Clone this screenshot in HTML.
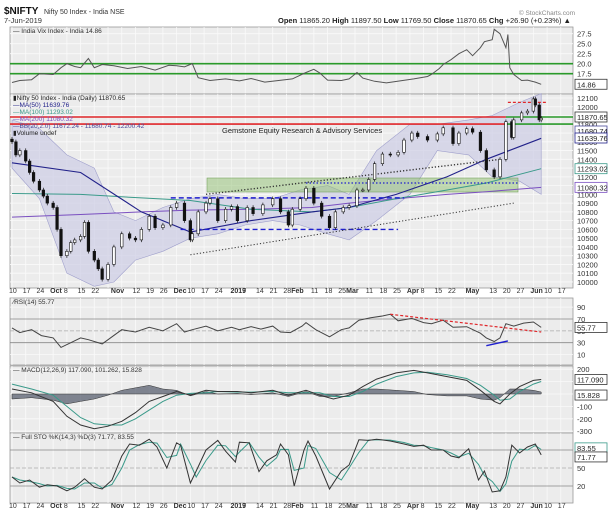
<!DOCTYPE html>
<html><head><meta charset="utf-8">
<style>
body{margin:0;background:#fff;font-family:"Liberation Sans",sans-serif;}
svg{display:block}
text{font-family:"Liberation Sans",sans-serif;}
</style></head><body>
<svg id="c" width="614" height="516" viewBox="0 0 614 516" xmlns="http://www.w3.org/2000/svg"></svg>
<script>
// ---------- DATA ----------
const priceDates=["2018-09-10","2018-09-12","2018-09-14","2018-09-17","2018-09-19","2018-09-21","2018-09-24","2018-09-26","2018-09-28","2018-10-01","2018-10-03","2018-10-05","2018-10-08","2018-10-10","2018-10-12","2018-10-15","2018-10-17","2018-10-19","2018-10-22","2018-10-24","2018-10-26","2018-10-29","2018-11-01","2018-11-05","2018-11-09","2018-11-12","2018-11-15","2018-11-19","2018-11-22","2018-11-26","2018-11-30","2018-12-03","2018-12-07","2018-12-10","2018-12-11","2018-12-14","2018-12-18","2018-12-20","2018-12-24","2018-12-28","2018-12-31","2019-01-03","2019-01-08","2019-01-11","2019-01-16","2019-01-21","2019-01-25","2019-01-29","2019-01-31","2019-02-04","2019-02-07","2019-02-11","2019-02-15","2019-02-19","2019-02-22","2019-02-26","2019-03-01","2019-03-05","2019-03-08","2019-03-11","2019-03-14","2019-03-18","2019-03-22","2019-03-26","2019-03-29","2019-04-02","2019-04-05","2019-04-10","2019-04-15","2019-04-18","2019-04-23","2019-04-26","2019-04-30","2019-05-03","2019-05-07","2019-05-10","2019-05-14","2019-05-17","2019-05-20","2019-05-23","2019-05-24","2019-05-28","2019-05-31","2019-06-03","2019-06-04","2019-06-06","2019-06-07"];
const priceClose=[11600,11450,11500,11380,11250,11150,11050,10980,10900,10850,10600,10300,10350,10450,10480,10520,10680,10350,10250,10150,10030,10200,10400,10550,10500,10480,10600,10750,10620,10650,10850,10900,10700,10480,10550,10800,10900,10950,10700,10830,10860,10700,10850,10780,10880,10950,10800,10650,10830,10950,11070,10900,10750,10620,10800,10850,10870,11050,11050,11170,11350,11460,11450,11480,11620,11700,11660,11620,11690,11760,11580,11700,11750,11710,11500,11280,11200,11400,11830,11650,11850,11930,11950,12090,12020,11850,11870];
const bbDates=["2018-09-10","2018-09-24","2018-10-08","2018-10-22","2018-11-01","2018-11-12","2018-11-26","2018-12-10","2018-12-24","2019-01-07","2019-01-21","2019-02-04","2019-02-18","2019-03-01","2019-03-15","2019-04-01","2019-04-15","2019-05-01","2019-05-13","2019-05-27","2019-06-07"];
const bbUpper=[11850,11750,11450,11300,10800,10700,10850,10950,11000,10950,10950,11050,11100,11000,11500,11800,11800,11850,11900,12050,12150];
const bbLower=[11300,10950,10100,9950,10000,10250,10350,10500,10550,10650,10700,10650,10550,10480,10700,11000,11500,11450,11200,11150,11000];
const maDates=["2018-09-10","2018-10-15","2018-11-15","2018-12-10","2019-01-10","2019-02-10","2019-03-01","2019-03-25","2019-04-20","2019-05-10","2019-06-07"];
const ma50=[11360,11250,10800,10570,10700,10800,10850,11000,11200,11400,11640];
const ma100=[11010,11000,10960,10930,10830,10800,10850,10950,11050,11130,11293];
const ma200=[10740,10770,10800,10820,10830,10850,10900,10950,11000,11030,11080];
const vixDates=["2018-09-10","2018-09-14","2018-09-20","2018-09-24","2018-10-01","2018-10-05","2018-10-08","2018-10-12","2018-10-15","2018-10-19","2018-10-22","2018-10-26","2018-11-01","2018-11-08","2018-11-15","2018-11-22","2018-11-29","2018-12-03","2018-12-07","2018-12-11","2018-12-14","2018-12-20","2018-12-28","2019-01-04","2019-01-10","2019-01-17","2019-01-24","2019-01-31","2019-02-07","2019-02-11","2019-02-14","2019-02-18","2019-02-25","2019-03-01","2019-03-05","2019-03-08","2019-03-14","2019-03-20","2019-03-27","2019-04-03","2019-04-10","2019-04-12","2019-04-16","2019-04-18","2019-04-22","2019-04-26","2019-04-30","2019-05-03","2019-05-07","2019-05-09","2019-05-13","2019-05-14","2019-05-17","2019-05-20","2019-05-21","2019-05-22","2019-05-24","2019-05-28","2019-05-31","2019-06-04","2019-06-07"];
const vixVals=[15.3,15.8,16,17.5,17.3,19,20,19.3,19,21.3,19,19.8,19.5,18.8,19.3,18.4,19.6,19.5,19.2,20,16.5,15.8,16.2,15.7,16.3,15.4,15.8,16.2,17.8,18.6,17.7,15.9,15.8,16.2,17.8,16.4,15.6,15.2,15.7,16.2,16.8,17.3,18.8,19.8,21,22.5,23.5,22,24,25.5,26,28.6,27.5,24,27.3,19,17.3,15.8,15.9,15.4,14.86];
const rsiDates=["2018-09-10","2018-09-14","2018-09-20","2018-09-25","2018-10-01","2018-10-05","2018-10-10","2018-10-15","2018-10-19","2018-10-26","2018-10-31","2018-11-05","2018-11-12","2018-11-19","2018-11-26","2018-12-03","2018-12-07","2018-12-11","2018-12-18","2018-12-24","2018-12-31","2019-01-04","2019-01-10","2019-01-15","2019-01-21","2019-01-25","2019-01-30","2019-02-05","2019-02-07","2019-02-12","2019-02-19","2019-02-25","2019-03-01","2019-03-06","2019-03-12","2019-03-18","2019-03-22","2019-03-26","2019-04-02","2019-04-08","2019-04-12","2019-04-18","2019-04-23","2019-04-30","2019-05-07","2019-05-10","2019-05-14","2019-05-17","2019-05-20","2019-05-24","2019-05-29","2019-06-03","2019-06-07"];
const rsiVals=[55,47,52,42,38,22,30,38,35,28,40,52,48,56,50,62,48,52,58,50,56,52,57,53,58,48,47,58,64,52,40,52,55,68,72,75,78,67,71,64,62,68,56,57,46,38,32,38,62,58,63,65,55.77];
const macdDates=["2018-09-10","2018-09-20","2018-10-01","2018-10-08","2018-10-15","2018-10-22","2018-10-29","2018-11-05","2018-11-12","2018-11-19","2018-11-26","2018-12-03","2018-12-10","2018-12-18","2018-12-24","2019-01-03","2019-01-10","2019-01-21","2019-01-29","2019-02-07","2019-02-14","2019-02-21","2019-03-01","2019-03-08","2019-03-15","2019-03-25","2019-04-03","2019-04-10","2019-04-20","2019-04-30","2019-05-07","2019-05-14","2019-05-17","2019-05-22","2019-05-27","2019-06-03","2019-06-07"];
const macdLine=[40,10,-60,-180,-250,-280,-260,-220,-150,-60,-20,20,-10,30,20,20,10,30,-10,30,-10,-40,-10,60,120,170,190,170,140,110,30,-60,-80,0,60,110,117];
const macdSignal=[80,40,-10,-100,-190,-240,-250,-250,-200,-130,-60,-10,5,10,20,15,15,20,10,10,10,-20,-20,20,80,140,170,175,155,125,70,-10,-50,-40,20,80,101];
const stoDates=["2018-09-10","2018-09-14","2018-09-19","2018-09-24","2018-09-28","2018-10-03","2018-10-08","2018-10-12","2018-10-17","2018-10-22","2018-10-26","2018-10-31","2018-11-05","2018-11-09","2018-11-14","2018-11-19","2018-11-23","2018-11-28","2018-12-03","2018-12-05","2018-12-10","2018-12-13","2018-12-18","2018-12-24","2018-12-28","2019-01-02","2019-01-04","2019-01-09","2019-01-14","2019-01-18","2019-01-23","2019-01-25","2019-01-29","2019-02-01","2019-02-06","2019-02-08","2019-02-12","2019-02-19","2019-02-25","2019-03-01","2019-03-06","2019-03-11","2019-03-15","2019-03-22","2019-03-29","2019-04-03","2019-04-08","2019-04-12","2019-04-18","2019-04-22","2019-04-26","2019-05-01","2019-05-06","2019-05-09","2019-05-13","2019-05-17","2019-05-20","2019-05-23","2019-05-27","2019-05-31","2019-06-04","2019-06-07"];
const stoK=[35,25,30,18,22,20,12,18,32,18,15,30,70,90,88,98,85,50,92,88,25,45,80,96,78,60,93,92,44,62,72,90,72,20,80,95,70,15,45,55,97,96,98,95,90,86,88,80,80,70,67,82,30,45,10,12,35,88,75,85,90,71.77];
const tickDates=["2018-09-10","2018-09-17","2018-09-24","2018-10-01","2018-10-08","2018-10-15","2018-10-22","2018-11-01","2018-11-12","2018-11-19","2018-11-26","2018-12-03","2018-12-10","2018-12-17","2018-12-24","2019-01-01","2019-01-07","2019-01-14","2019-01-21","2019-01-28","2019-02-01","2019-02-11","2019-02-18","2019-02-25","2019-03-01","2019-03-11","2019-03-18","2019-03-25","2019-04-01","2019-04-08","2019-04-15","2019-04-22","2019-05-01","2019-05-13","2019-05-20","2019-05-27","2019-06-03","2019-06-10","2019-06-17"];
const tickLabels=["10","17","24","Oct","8","15","22","Nov","12","19","26","Dec","10","17","24","2019","7","14","21","28","Feb","11","18","25","Mar","11","18","25","Apr","8","15","22","May","13","20","27","Jun","10","17"];
const priceTicks=[12100,12000,11900,11800,11700,11600,11500,11400,11300,11200,11100,11000,10900,10800,10700,10600,10500,10400,10300,10200,10100,10000];
const vixTicks=[27.5,25,22.5,20,17.5];
const rsiTicks=[90,70,50,30,10];
const macdTicks=[200,100,0,-100,-200,-300];
const stoTicks=[80,50,20];

// ---------- SCALES ----------
const D0=Date.UTC(2018,8,10);
function days(s){const p=s.split('-');return (Date.UTC(+p[0],+p[1]-1,+p[2])-D0)/86400000;}
function X(s){return 12+days(s)*1.96;}
const yP=v=>98+(12100-v)*0.0876;
const yV=v=>73.7-(v-17.5)*4;
const yR=v=>319-(v-70)*0.592;
const yM=v=>394-v*0.124;
const yS=v=>468-(v-50)*0.6;
const L=10,R=573;
const svg=document.getElementById('c');
const NS="http://www.w3.org/2000/svg";
function el(tag,attrs,parent){const e=document.createElementNS(NS,tag);for(const k in attrs)e.setAttribute(k,attrs[k]);(parent||svg).appendChild(e);return e;}
function txt(x,y,s,size,fill,anchor,weight){const t=el('text',{x:x,y:y,'font-size':size,fill:fill||'#222','text-anchor':anchor||'start','font-weight':weight||'normal'});t.textContent=s;return t;}
function lineStr(dates,vals,fy){return dates.map((d,i)=>(i?'L':'M')+X(d).toFixed(1)+','+fy(vals[i]).toFixed(1)).join('');}

// ---------- PANELS ----------
const panels=[["vix-panel",27,94],["price-panel",94,288],["rsi-panel",298,365],["macd-panel",366,433],["sto-panel",433,503]];
panels.forEach(p=>{
  const r=el('rect',{x:L,y:p[1],width:R-L,height:p[2]-p[1],fill:'#ececec',stroke:'#999','stroke-width':0.8});
  
  
  for(let d=0;d<=284;d+=7){const x=12+d*1.96;if(x>R)break;el('line',{x1:x,x2:x,y1:p[1],y2:p[2],stroke:'#fafafa','stroke-width':0.8});}
});
priceTicks.forEach(v=>{el('line',{x1:L,x2:R,y1:yP(v),y2:yP(v),stroke:'#fafafa','stroke-width':0.8});
  const t=txt(577,yP(v)+3,String(v),7.5,'#333');});
vixTicks.forEach(v=>{el('line',{x1:L,x2:R,y1:yV(v),y2:yV(v),stroke:'#fafafa','stroke-width':0.8});
  const t=txt(577,yV(v)+3,v.toFixed(1),7.5,'#333');});
rsiTicks.forEach(v=>{el('line',{x1:L,x2:R,y1:yR(v),y2:yR(v),stroke:(v==70||v==30)?'#888':(v==50?'#aaa':'#fafafa'),'stroke-width':0.8,'stroke-dasharray':v==50?'4,2':'none'});
  const t=txt(577,yR(v)+3,String(v),7.5,'#333');});
macdTicks.forEach(v=>{el('line',{x1:L,x2:R,y1:yM(v),y2:yM(v),stroke:'#fafafa','stroke-width':0.8});
  if(v!==0&&v!==100){const t=txt(577,yM(v)+3,String(v),7.5,'#333');}});
stoTicks.forEach(v=>{el('line',{x1:L,x2:R,y1:yS(v),y2:yS(v),stroke:v==50?'#aaa':'#888','stroke-width':0.8,'stroke-dasharray':v==50?'4,2':'none'});
  if(v!==80){const t=txt(577,yS(v)+3,String(v),7.5,'#333');}});

// ---------- HEADER ----------
let t;
t=txt(4,14,'$NIFTY',10,'#111','start','bold');
t=txt(44,14,'Nifty 50 Index - India NSE',7,'#333');
t=txt(4,23,'7-Jun-2019',7.5,'#333');
t=txt(575,15,'© StockCharts.com',6.5,'#888','end');
t=txt(278,23,'',7.5,'#222');
t.innerHTML='<tspan font-weight="bold">Open</tspan> 11865.20 <tspan font-weight="bold">High</tspan> 11897.50 <tspan font-weight="bold">Low</tspan> 11769.50 <tspan font-weight="bold">Close</tspan> 11870.65 <tspan font-weight="bold">Chg</tspan> +26.90 (+0.23%) ▲';

// ---------- VIX ----------
[20,17.5].forEach(v=>{const l=el('line',{x1:L,x2:R,y1:yV(v),y2:yV(v),stroke:'#2a9a2a','stroke-width':1.6});});
let p=el('path',{d:lineStr(vixDates,vixVals,yV),fill:'none',stroke:'#555','stroke-width':1});

t=txt(13,33,'— India Vix Index - India 14.86',6.5,'#333');

// ---------- PRICE ----------
const bandPath=lineStr(bbDates,bbUpper,yP)+bbDates.slice().reverse().map((d,i)=>'L'+X(d).toFixed(1)+','+yP(bbLower[bbLower.length-1-i]).toFixed(1)).join('')+'Z';
p=el('path',{d:bandPath,fill:'#cfcfe6','fill-opacity':0.75,stroke:'#a0a0cc','stroke-width':0.6});

p=el('rect',{x:207,y:178,width:311,height:14,fill:'#8fc06f','fill-opacity':0.5,stroke:'#6a9a50','stroke-width':0.5});

p=el('path',{d:lineStr(maDates,ma200,yP),fill:'none',stroke:'#7a4fc0','stroke-width':1});
p=el('path',{d:lineStr(maDates,ma100,yP),fill:'none',stroke:'#3a9a8a','stroke-width':1});
p=el('path',{d:lineStr(maDates,ma50,yP),fill:'none',stroke:'#22228a','stroke-width':1.1});
[11883,11803].forEach(v=>{
  let l=el('line',{x1:L,x2:X("2019-05-20"),y1:yP(v),y2:yP(v),stroke:'#e0262a','stroke-width':1.6});
  l=el('line',{x1:X("2019-05-20"),x2:R,y1:yP(v),y2:yP(v),stroke:'#2a9a2a','stroke-width':1.6});
});
p=el('line',{x1:X("2019-05-21"),x2:X("2019-06-10"),y1:yP(12050),y2:yP(12050),stroke:'#e0262a','stroke-width':1.2,'stroke-dasharray':'3,2'});
p=el('line',{x1:X("2018-11-30"),x2:X("2019-03-29"),y1:yP(10960),y2:yP(10960),stroke:'#2020d0','stroke-width':1.4,'stroke-dasharray':'5,3'});
p=el('line',{x1:X("2018-12-05"),x2:X("2019-03-26"),y1:yP(10600),y2:yP(10600),stroke:'#2020d0','stroke-width':1.4,'stroke-dasharray':'5,3'});
p=el('line',{x1:X("2019-02-07"),x2:X("2019-05-27"),y1:yP(11130),y2:yP(11130),stroke:'#2020d0','stroke-width':1.2,'stroke-dasharray':'1.5,2'});
p=el('line',{x1:X("2018-12-10"),y1:yP(10310),x2:X("2019-05-24"),y2:yP(10900),stroke:'#333','stroke-width':1,'stroke-dasharray':'1.2,2'});
p=el('line',{x1:X("2018-12-18"),y1:yP(11000),x2:X("2019-05-17"),y2:yP(11400),stroke:'#333','stroke-width':1.4,'stroke-dasharray':'1.2,2'});
priceDates.forEach((d,i)=>{
  const c=priceClose[i],o=i?priceClose[i-1]:c+30;
  const hi=Math.max(o,c)+25,lo=Math.min(o,c)-25,x=X(d);
  const g=el('g',{});
  
  
  el('line',{x1:x,x2:x,y1:yP(hi),y2:yP(lo),stroke:'#111','stroke-width':0.7},g);
  const top=yP(Math.max(o,c)),h=Math.max(1,Math.abs(yP(o)-yP(c)));
  el('rect',{x:x-1.3,y:top,width:2.6,height:h,fill:c>=o?'#fff':'#111',stroke:'#111','stroke-width':0.6},g);
});
t=txt(13,100,'▮Nifty 50 Index - India (Daily) 11870.65',6.5,'#222');
t=txt(13,107,'—MA(50) 11639.76',6.5,'#22228a');
t=txt(13,114,'—MA(100) 11293.02',6.5,'#3a9a8a');
t=txt(13,121,'—MA(200) 11080.32',6.5,'#7a4fc0');
t=txt(13,128,'—BB(20,2.0) 11672.24 - 11680.74 - 12200.42',6.5,'#4a4a9a');
t=txt(13,135,'▮Volume undef',6.5,'#222');
t=txt(222,133,'Gemstone Equity Research & Advisory Services',7.5,'#222');

function vbox(y,label,color,name){const g=el('g',{});
  el('rect',{x:575,y:y-5,width:32,height:10,fill:'#fff',stroke:color,'stroke-width':0.8},g);
  const tt=el('text',{x:577,y:y+3,'font-size':7.5,fill:'#222'},g);tt.textContent=label;}
vbox(yV(14.86),'14.86','#333','vix-value-box');
vbox(117,'11870.65','#333','close-value-box');
vbox(131,'11680.74','#4a4a9a','bb-value-box');
vbox(138,'11639.76','#22228a','ma50-value-box');
vbox(yP(11293),'11293.02','#3a9a8a','ma100-value-box');
vbox(yP(11080),'11080.32','#7a4fc0','ma200-value-box');

[293,508].forEach((yy,k)=>{tickDates.forEach((d,i)=>{const isM=isNaN(+tickLabels[i])||tickLabels[i]=='2019';
  const tt=txt(X(d)-3,yy,tickLabels[i],7,'#333','start',isM?'bold':'normal');
  
  });});

// ---------- RSI ----------
p=el('path',{d:lineStr(rsiDates,rsiVals,yR),fill:'none',stroke:'#444','stroke-width':1});
p=el('line',{x1:X("2019-03-22"),y1:yR(78),x2:X("2019-06-07"),y2:yR(48),stroke:'#e0262a','stroke-width':1.2,'stroke-dasharray':'3,2'});
p=el('line',{x1:X("2019-05-10"),y1:yR(25),x2:X("2019-05-21"),y2:yR(33),stroke:'#2020d0','stroke-width':1.4});
t=txt(13,304,'∕RSI(14) 55.77',6.5,'#333');
vbox(yR(55.77),'55.77','#333','rsi-value-box');

// ---------- MACD ----------
const histVals=macdLine.map((v,i)=>v-macdSignal[i]);
const hp='M'+X(macdDates[0])+','+yM(0)+macdDates.map((d,i)=>'L'+X(d).toFixed(1)+','+yM(histVals[i]).toFixed(1)).join('')+'L'+X(macdDates[macdDates.length-1])+','+yM(0)+'Z';
p=el('path',{d:hp,fill:'#5a6070','fill-opacity':0.75,stroke:'#333','stroke-width':0.5});
p=el('path',{d:lineStr(macdDates,macdSignal,yM),fill:'none',stroke:'#3a9a8a','stroke-width':1});
p=el('path',{d:lineStr(macdDates,macdLine,yM),fill:'none',stroke:'#333','stroke-width':1});
t=txt(13,372,'— MACD(12,26,9) 117.090, 101.262, 15.828',6.5,'#333');
vbox(yM(117),'117.090','#333','macd-value-box');
vbox(yM(15.8)+3,'15.828','#333','macd-hist-value-box');

// ---------- STO ----------
const stoD=stoK.map((v,i)=>{const a=stoK.slice(Math.max(0,i-1),i+1);return a.reduce((s,x)=>s+x,0)/a.length;});
p=el('path',{d:lineStr(stoDates,stoD,yS),fill:'none',stroke:'#3a9a8a','stroke-width':1});
p=el('path',{d:lineStr(stoDates,stoK,yS),fill:'none',stroke:'#333','stroke-width':1});
t=txt(13,439,'— Full STO %K(14,3) %D(3) 71.77, 83.55',6.5,'#333');
vbox(yS(83.55),'83.55','#3a9a8a','sto-d-value-box');
vbox(yS(71.77)+2,'71.77','#333','sto-k-value-box');
</script>
</body></html>
